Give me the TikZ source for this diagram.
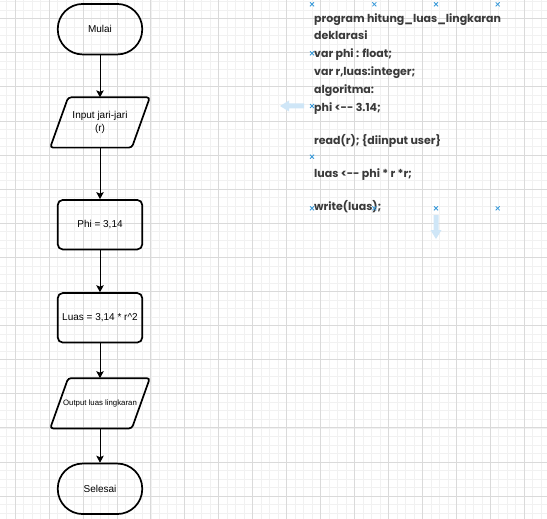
\documentclass[tikz,border=0pt]{standalone}
\usepackage{fontspec}
\setmainfont{Liberation Sans}
\newfontfamily\codefont{Poppins}
\usetikzlibrary{arrows.meta}
\definecolor{gridmajor}{HTML}{DADADA}
\definecolor{gridminor}{HTML}{F1F1F1}
\definecolor{codegrey}{HTML}{3A3A3A}
\definecolor{markblue}{HTML}{3A9AD9}
\definecolor{paleblue}{HTML}{CFE6F7}
\tikzset{
  shapebase/.style={draw=black, line width=1.7pt, inner sep=0pt, align=center,
    font=\fontsize{10}{13}\selectfont, text=black},
  term/.style={shapebase, rectangle, rounded corners=25pt, minimum width=84.5pt, minimum height=50.5pt},
  proc/.style={shapebase, rectangle, rounded corners=5pt, minimum width=84.5pt, minimum height=49.5pt},
  io/.style={shapebase, draw=none, rectangle, minimum width=80pt, minimum height=48.6pt},
  ioborder/.style={draw=black, line width=1.7pt, rounded corners=3pt},
  arr/.style={draw=black, line width=1pt, -{Stealth[length=7pt,width=7.5pt,inset=1.5pt]}},
  codeline/.style={anchor=base west, inner sep=0pt, text=codegrey,
    font=\codefont\bfseries\fontsize{11}{12}\selectfont},
  minorline/.style={draw=gridminor, line width=0.6pt},
  majorline/.style={draw=gridmajor, line width=0.7pt},
  mk/.style={draw=markblue, line width=0.8pt},
}
\newcommand{\ioshape}[1]{%
  \draw[ioborder] ([xshift=9pt]#1.north west) -- ([xshift=9pt]#1.north east)
    -- ([xshift=-9pt]#1.south east) -- ([xshift=-9pt]#1.south west) -- cycle;}
\begin{document}
\begin{tikzpicture}[x=1pt,y=-1pt]
\useasboundingbox (0,0) rectangle (547,519);
\fill[white] (0,0) rectangle (547,519);
\begin{scope}
\clip (0,0) rectangle (547,519);
% minor grid
\foreach \m in {-2,...,64} {\draw[minorline] ({15+8.4875*\m},0) -- ({15+8.4875*\m},519);}
\foreach \m in {-3,...,60} {\draw[minorline] (0,{18.6+8.525*\m}) -- (547,{18.6+8.525*\m});}
% major grid
\foreach \k in {-1,...,16} {\draw[majorline] ({15+33.95*\k},0) -- ({15+33.95*\k},519);}
\foreach \k in {-1,...,15} {\draw[majorline] (0,{18.6+34.1*\k}) -- (547,{18.6+34.1*\k});}
\end{scope}

% flowchart
\node[term] (mulai) at (100,29.2) {Mulai};
\node[io] (input) at (100,122.5) {Input jari-jari\\(r)};
\ioshape{input}
\node[proc] (phi) at (100,224.7) {Phi = 3,14};
\node[proc] (luas) at (100,317.8) {Luas = 3,14 * r\textasciicircum 2};
\node[io, font=\fontsize{7.8}{9}\selectfont] (output) at (100,403.3) {Output luas lingkaran};
\ioshape{output}
\node[term] (selesai) at (100,488.8) {Selesai};

\draw[arr] (mulai.south) -- (input.north);
\draw[arr] (input.south) -- (phi.north);
\draw[arr] (phi.south) -- (luas.north);
\draw[arr] (luas.south) -- (output.north);
\draw[arr] (output.south) -- (selesai.north);

% code text
\node[codeline] (c1) at (314,22.3) {program hitung\_luas\_lingkaran};
\node[codeline] (c2) at (314,39.3) {deklarasi};
\node[codeline] (c3) at (314,57.3) {var phi : float;};
\node[codeline] (c4) at (314,75.7) {var r,luas:integer;};
\node[codeline] (c5) at (314,93.3) {algoritma:};
\node[codeline] (c6) at (314,111.7) {phi <-{}- 3.14;};
\node[codeline] (c7) at (314,144.7) {read(r); \{diinput user\}};
\node[codeline] (c8) at (314,177.3) {luas <-{}- phi * r *r;};
\node[codeline] (c9) at (314,210.7) {write(luas);};

% pale blue hover arrows
\fill[paleblue] (280,106) -- (289,100.5) -- (289,103.5) -- (304,103.5) -- (304,108.5) -- (289,108.5) -- (289,111.5) -- cycle;
\fill[paleblue] (436,239) -- (430.5,230) -- (433.5,230) -- (433.5,215) -- (438.5,215) -- (438.5,230) -- (441.5,230) -- cycle;

% blue selection markers
\foreach \px/\py in {312/4.3, 374.3/4.3, 436/4.3, 497.7/4.3, 312/53.3, 312/106, 312/156.7,
  312/208.3, 374.3/208.3, 436/208.3, 497.7/208.3} {
  \draw[mk] (\px-2,\py-2) -- (\px+2,\py+2) (\px-2,\py+2) -- (\px+2,\py-2);
}
\end{tikzpicture}
\end{document}
